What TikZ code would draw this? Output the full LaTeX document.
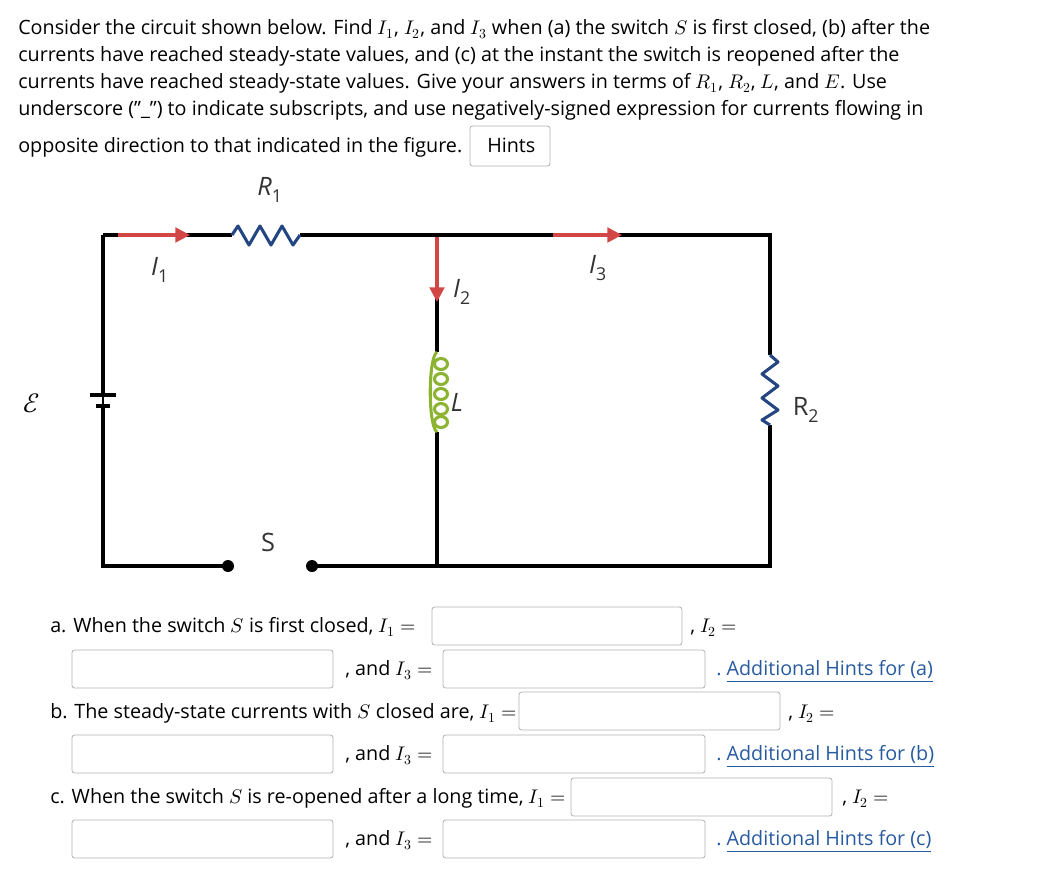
\documentclass[tikz,border=0pt]{standalone}
\usepackage{fontspec}
\setmainfont{Open Sans}
\usepackage{unicode-math}
\setmathfont{Latin Modern Math}
\usetikzlibrary{decorations.pathmorphing,arrows.meta}
\definecolor{wirered}{RGB}{210,70,70}
\definecolor{resblue}{RGB}{35,70,130}
\definecolor{indgreen}{RGB}{140,180,50}
\definecolor{linkblue}{RGB}{40,90,160}
\begin{document}
\begin{tikzpicture}[x=0.75pt,y=-0.75pt,
  txt/.style={anchor=base west,inner sep=0pt,font=\fontsize{14.8pt}{17pt}\selectfont},
  ansbox/.style={draw=gray!60,rounded corners=2pt,line width=0.6pt},
  wire/.style={line width=2.3pt,black},
  lbl/.style={font=\fontsize{19pt}{21pt}\selectfont,text=black!80},
  link/.style={txt,text=linkblue}]
\useasboundingbox (0,0) rectangle (1056,886);
% question text
\node[txt] (q1) at (18,34) {Consider the circuit shown below. Find $I_1$, $I_2$, and $I_3$ when (a) the switch $S$ is first closed, (b) after the};
\node[txt] (q2) at (18,61) {currents have reached steady-state values, and (c) at the instant the switch is reopened after the};
\node[txt] (q3) at (18,88) {currents have reached steady-state values. Give your answers in terms of $R_1$, $R_2$, $L$, and $E$. Use};
\node[txt] (q4) at (18,115) {underscore ("\_") to indicate subscripts, and use negatively-signed expression for currents flowing in};
\node[txt] (q5) at (18,152) {opposite direction to that indicated in the figure.};
\draw[ansbox] (470,126) rectangle (550,166);
\node[txt] (hints) at (487,152) {Hints};
% circuit
\coordinate (tl) at (103,235); \coordinate (tr) at (770,235);
\coordinate (bl) at (103,566); \coordinate (br) at (770,566);
\coordinate (tm) at (437,235); \coordinate (bm) at (437,566);
\draw[wire] (tl) -- (232,235);
\draw[wire] (300,235) -- (tr) -- (770,355);
\draw[wire] (770,425) -- (br) -- (312,566);
\draw[wire] (228,566) -- (bl) -- (103,408);
\draw[wire] (103,394) -- (tl);
\draw[wire] (tm) -- (437,352);
\draw[wire] (437,432) -- (bm);
% battery
\draw[wire] (90,395) -- (116,395);
\draw[wire] (96,406) -- (110,406);
\draw[line width=1.5pt] (103,395)--(103,406);
\node[font=\fontsize{20pt}{22pt}\selectfont] (eps) at (32,403) {$\mathcal{E}$};
% R1
\draw[resblue,line width=2.3pt,line join=round] (232,235) -- (238,226) -- (249,245) -- (260,226) -- (271,245) -- (282,226) -- (293,245) -- (300,235);
\node[lbl] (r1) at (270,190) {\textit{R}\textsubscript{1}};
% R2
\draw[resblue,line width=2.3pt,line join=round] (770,355) -- (778,362) -- (762,374) -- (778,386) -- (762,398) -- (778,410) -- (762,420) -- (770,425);
\node[lbl] (r2) at (806,410) {R\textsubscript{2}};
% inductor
\begin{scope}[indgreen,line width=2.3pt]
\draw (437,352) .. controls (428,358) and (428,426) .. (437,432);
\foreach \yy in {364,379,394,409,422} \draw (441,\yy) ellipse [x radius=6.5, y radius=5.5];
\end{scope}
\node[lbl] (lL) at (457,402) {\textit{L}};
% currents
\draw[wirered,line width=2.3pt,-{Triangle[length=11pt,width=11pt]}] (118,235) -- (190,235);
\draw[wirered,line width=2.3pt,-{Triangle[length=11pt,width=11pt]}] (553,235) -- (622,235);
\draw[wirered,line width=2.3pt,-{Triangle[length=11pt,width=11pt]}] (437,237) -- (437,302);
\node[lbl] (i1) at (160,270) {\textit{I}\textsubscript{1}};
\node[lbl] (i2) at (462,292) {\textit{I}\textsubscript{2}};
\node[lbl] (i3) at (598,268) {\textit{I}\textsubscript{3}};
% switch
\fill (228,566) circle (6) (312,566) circle (6);
\node[lbl] (s) at (268,542) {S};
% answers
\node[txt] (a1) at (50,632) {a. When the switch $S$ is first closed, $I_1 =$};
\draw[ansbox] (432,607) rectangle (682,645);
\node[txt] (a2) at (690,632) {, $I_2 =$};
\draw[ansbox] (72,650) rectangle (333,688);
\node[txt] (a3) at (345,675) {, and $I_3 =$};
\draw[ansbox] (443,650) rectangle (705,688);
\node[link] (ha) at (716,675) {.\ \underline{Additional Hints for (a)}};
\node[txt] (b1) at (50,718) {b. The steady-state currents with $S$ closed are, $I_1 =$};
\draw[ansbox] (519,692) rectangle (780,730);
\node[txt] (b2) at (788,718) {, $I_2 =$};
\draw[ansbox] (72,735) rectangle (333,773);
\node[txt] (b3) at (345,760) {, and $I_3 =$};
\draw[ansbox] (443,735) rectangle (705,773);
\node[link] (hb) at (716,760) {.\ \underline{Additional Hints for (b)}};
\node[txt] (c1) at (50,803) {c. When the switch $S$ is re-opened after a long time, $I_1 =$};
\draw[ansbox] (571,778) rectangle (832,816);
\node[txt] (c2) at (842,803) {, $I_2 =$};
\draw[ansbox] (72,820) rectangle (333,858);
\node[txt] (c3) at (345,845) {, and $I_3 =$};
\draw[ansbox] (443,820) rectangle (705,858);
\node[link] (hc) at (716,845) {.\ \underline{Additional Hints for (c)}};
\end{tikzpicture}
\end{document}
